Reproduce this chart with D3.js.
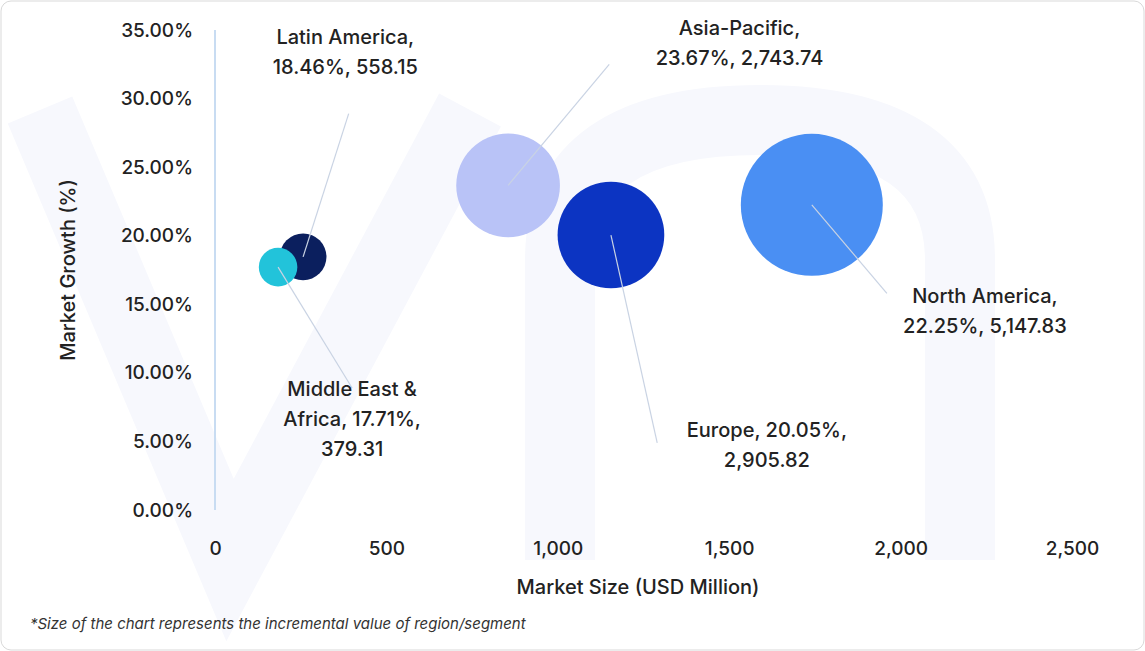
<!DOCTYPE html>
<html><head><meta charset="utf-8">
<script src="https://cdn.jsdelivr.net/npm/d3@7"></script>
<style>body{margin:0;background:#fff;font-family:Inter,"Open Sans",sans-serif}</style>
</head><body><svg id="c" width="1145" height="651"></svg>
<script>
// data
var regions = ['Latin America', 'Middle East & Africa', 'Asia-Pacific', 'Europe', 'North America'];
var marketSize = [257, 184, 855, 1155, 1741];
var growth = [18.46, 17.71, 23.67, 20.05, 22.25];
var increment = [558.15, 379.31, 2743.74, 2905.82, 5147.83];
var colors = ['#0b1f5e', '#22c3da', '#b9c3f7', '#0c34c2', '#4a8ff3'];
var labelLines = [
  ['Latin America,', '18.46%, 558.15'],
  ['Middle East &', 'Africa, 17.71%,', '379.31'],
  ['Asia-Pacific,', '23.67%, 2,743.74'],
  ['Europe, 20.05%,', '2,905.82'],
  ['North America,', '22.25%, 5,147.83']
];
// label anchor (in data coords) and leader start
var labelAt = [[380, 34], [400, 8.3], [1530, 34.6], [1610, 5.3], [2246, 15.1]];
var leaderFrom = [[390, 28.9], [400, 8.9], [1150, 32.5], [1290, 4.9], [1960, 15.8]];
var xTicks = [0, 500, 1000, 1500, 2000, 2500];
var yTicks = [0, 5, 10, 15, 20, 25, 30, 35];

var svg = d3.select('#c');
svg.append('rect').attr('x', 1).attr('y', 1).attr('width', 1143).attr('height', 649)
  .attr('rx', 10).attr('fill', '#fff').attr('stroke', '#d9d9d9');

// faint watermark
var wm = svg.append('g').attr('fill', 'none').attr('stroke', '#f7f8fd').attr('stroke-width', 70);
wm.append('path').attr('d', 'M40,110 L230,560 L470,110');
wm.append('path').attr('d', 'M560,560 L560,260 Q560,120 760,120 Q960,120 960,260 L960,560');

var x = d3.scaleLinear().domain([0, 2500]).range([215, 1072]);
var y = d3.scaleLinear().domain([0, 35]).range([510, 30]);
var r = d3.scaleSqrt().domain([0, 5147.83]).range([0, 71]);

svg.append('line').attr('x1', 215).attr('x2', 215).attr('y1', 30).attr('y2', 510)
  .attr('stroke', '#c8dcf2').attr('stroke-width', 2);

var xa = svg.append('g').attr('transform', 'translate(0,510)')
  .call(d3.axisBottom(x).tickValues(xTicks).tickSize(0).tickPadding(32).tickFormat(d3.format(',')));
xa.select('.domain').remove();
var ya = svg.append('g').attr('transform', 'translate(193,0)')
  .call(d3.axisLeft(y).tickValues(yTicks).tickSize(0).tickPadding(0).tickFormat(function(d){ return d.toFixed(2) + '%'; }));
ya.select('.domain').remove();
svg.selectAll('.tick text').attr('font-family', 'Inter,sans-serif').attr('font-size', 19)
  .attr('font-weight', 500).attr('fill', '#222');

svg.append('text').attr('x', 638).attr('y', 594).attr('text-anchor', 'middle').attr('font-weight', 500)
  .attr('font-size', 20).attr('fill', '#222').text('Market Size (USD Million)');
svg.append('text').attr('transform', 'translate(75,270) rotate(-90)').attr('text-anchor', 'middle')
  .attr('font-size', 20).attr('font-weight', 500).attr('fill', '#222').text('Market Growth (%)');
svg.append('text').attr('x', 30).attr('y', 629).attr('font-size', 15).attr('font-style', 'italic')
  .attr('fill', '#333').text('*Size of the chart represents the incremental value of region/segment');

var idx = d3.range(regions.length).sort(function(a, b){ return increment[b] - increment[a]; });
svg.append('g').selectAll('circle').data(idx).join('circle')
  .attr('cx', function(i){ return x(marketSize[i]); })
  .attr('cy', function(i){ return y(growth[i]); })
  .attr('r', function(i){ return r(increment[i]); })
  .attr('fill', function(i){ return colors[i]; });

svg.append('g').selectAll('line').data(d3.range(regions.length)).join('line')
  .attr('x1', function(i){ return x(leaderFrom[i][0]); })
  .attr('y1', function(i){ return y(leaderFrom[i][1]); })
  .attr('x2', function(i){ return x(marketSize[i]); })
  .attr('y2', function(i){ return y(growth[i]); })
  .attr('stroke', '#c9d3e3').attr('stroke-width', 1.2);

var lg = svg.append('g').selectAll('text').data(d3.range(regions.length)).join('text')
  .attr('text-anchor', 'middle').attr('font-size', 20).attr('font-weight', 500).attr('fill', '#222')
  .attr('x', function(i){ return x(labelAt[i][0]); })
  .attr('y', function(i){ return y(labelAt[i][1]); });
lg.selectAll('tspan').data(function(i){ return labelLines[i].map(function(t){ return {t: t, i: i}; }); })
  .join('tspan').attr('x', function(d){ return x(labelAt[d.i][0]); })
  .attr('dy', function(d, k){ return k ? 30 : 0; }).text(function(d){ return d.t; });
</script></body></html>
